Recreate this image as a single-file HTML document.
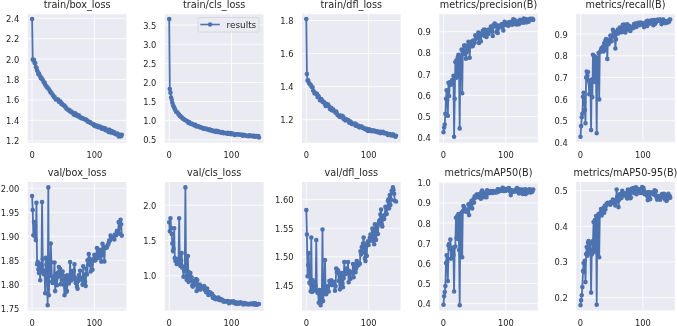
<!DOCTYPE html>
<html lang="en"><head><meta charset="utf-8"><title>results</title>
<style>html,body{margin:0;padding:0;background:#fff}svg{display:block}</style>
</head><body>
<svg width="677" height="326" viewBox="0 0 677 326" font-family="'DejaVu Sans', 'Liberation Sans', sans-serif" fill="#262626">
<rect width="677" height="326" fill="#fff"/>
<g>
<rect x="27.8" y="14.2" width="98.6" height="128.5" fill="#EAEAF2"/>
<path d="M32.1 14.2V142.7M94.4 14.2V142.7M27.8 18.3H126.4M27.8 38.7H126.4M27.8 59.1H126.4M27.8 79.5H126.4M27.8 99.9H126.4M27.8 120.3H126.4M27.8 140.7H126.4" stroke="#fff" stroke-width="0.8" fill="none"/>
<text x="19.3" y="21.85" font-size="8.3" text-anchor="end">2.4</text>
<text x="19.3" y="42.25" font-size="8.3" text-anchor="end">2.2</text>
<text x="19.3" y="62.65" font-size="8.3" text-anchor="end">2.0</text>
<text x="19.3" y="83.05" font-size="8.3" text-anchor="end">1.8</text>
<text x="19.3" y="103.45" font-size="8.3" text-anchor="end">1.6</text>
<text x="19.3" y="123.85" font-size="8.3" text-anchor="end">1.4</text>
<text x="19.3" y="144.25" font-size="8.3" text-anchor="end">1.2</text>
<text x="32.1" y="157.8" font-size="8.3" text-anchor="middle">0</text>
<text x="94.4" y="157.8" font-size="8.3" text-anchor="middle">100</text>
<text x="77.1" y="8.1" font-size="9.7" text-anchor="middle">train/box_loss</text>
<polyline points="32.1,19 32.72,59.6 33.35,60.4 33.97,59.9 34.59,62.89 35.22,63.1 35.84,67.07 36.46,67.86 37.08,70.38 37.71,71.85 38.33,74.1 38.95,73.47 39.58,75.44 40.2,76.41 40.82,78.15 41.45,77.92 42.07,79.31 42.69,79.87 43.31,81.3 43.94,82.54 44.56,82.62 45.18,84.73 45.81,85.55 46.43,86.28 47.05,87.41 47.67,87.5 48.3,88.72 48.92,89.2 49.54,90.47 50.17,91.84 50.79,92.16 51.41,93.28 52.04,94.07 52.66,94.88 53.28,95.8 53.91,96.88 54.53,96.92 55.15,98.2 55.77,99.47 56.4,99.44 57.02,99.37 57.64,99.42 58.27,99.92 58.89,101.68 59.51,101.26 60.14,101.4 60.76,102.41 61.38,104.07 62,103.63 62.63,104.58 63.25,105.08 63.87,105.4 64.5,105.63 65.12,106.71 65.74,107.39 66.37,108.38 66.99,109.04 67.61,109.59 68.23,109.71 68.86,110.52 69.48,110.05 70.1,111.62 70.73,111.63 71.35,111.6 71.97,112.46 72.59,112.55 73.22,113.65 73.84,114.27 74.46,115.05 75.09,113.4 75.71,113.75 76.33,114.67 76.96,115.43 77.58,116.2 78.2,116.24 78.83,115.24 79.45,116.57 80.07,117.56 80.69,117.54 81.32,118.15 81.94,117.86 82.56,118.15 83.19,118.65 83.81,119.06 84.43,119.21 85.06,119.45 85.68,119.28 86.3,120.22 86.92,120.42 87.55,121.39 88.17,121.83 88.79,121.64 89.42,121.72 90.04,121.99 90.66,123.06 91.28,123.27 91.91,123.44 92.53,124.07 93.15,124.05 93.78,125.2 94.4,124.83 95.02,126.14 95.65,125.93 96.27,126.33 96.89,125.57 97.52,126.6 98.14,127.2 98.76,126.4 99.38,127.06 100.01,127.48 100.63,126.85 101.25,128.12 101.88,128.68 102.5,127.85 103.12,128.83 103.75,128.04 104.37,129.06 104.99,128.32 105.61,130.26 106.24,130.05 106.86,130.01 107.48,129.77 108.11,131.28 108.73,131.95 109.35,129.78 109.97,131.96 110.6,132.44 111.22,131.86 111.84,131.12 112.47,132.67 113.09,132.27 113.71,132.29 114.34,132.19 114.96,133.63 115.58,134.09 116.21,133.46 116.83,134.45 117.45,133.6 118.07,135.03 118.7,136.4 119.32,134.62 119.94,135.8 120.57,135.48 121.19,136.3 121.81,134.7" fill="none" stroke="#4C72B0" stroke-width="1.8" stroke-linejoin="round"/>
<path d="M32.1 19h0M32.72 59.6h0M33.35 60.4h0M33.97 59.9h0M34.59 62.89h0M35.22 63.1h0M35.84 67.07h0M36.46 67.86h0M37.08 70.38h0M37.71 71.85h0M38.33 74.1h0M38.95 73.47h0M39.58 75.44h0M40.2 76.41h0M40.82 78.15h0M41.45 77.92h0M42.07 79.31h0M42.69 79.87h0M43.31 81.3h0M43.94 82.54h0M44.56 82.62h0M45.18 84.73h0M45.81 85.55h0M46.43 86.28h0M47.05 87.41h0M47.67 87.5h0M48.3 88.72h0M48.92 89.2h0M49.54 90.47h0M50.17 91.84h0M50.79 92.16h0M51.41 93.28h0M52.04 94.07h0M52.66 94.88h0M53.28 95.8h0M53.91 96.88h0M54.53 96.92h0M55.15 98.2h0M55.77 99.47h0M56.4 99.44h0M57.02 99.37h0M57.64 99.42h0M58.27 99.92h0M58.89 101.68h0M59.51 101.26h0M60.14 101.4h0M60.76 102.41h0M61.38 104.07h0M62 103.63h0M62.63 104.58h0M63.25 105.08h0M63.87 105.4h0M64.5 105.63h0M65.12 106.71h0M65.74 107.39h0M66.37 108.38h0M66.99 109.04h0M67.61 109.59h0M68.23 109.71h0M68.86 110.52h0M69.48 110.05h0M70.1 111.62h0M70.73 111.63h0M71.35 111.6h0M71.97 112.46h0M72.59 112.55h0M73.22 113.65h0M73.84 114.27h0M74.46 115.05h0M75.09 113.4h0M75.71 113.75h0M76.33 114.67h0M76.96 115.43h0M77.58 116.2h0M78.2 116.24h0M78.83 115.24h0M79.45 116.57h0M80.07 117.56h0M80.69 117.54h0M81.32 118.15h0M81.94 117.86h0M82.56 118.15h0M83.19 118.65h0M83.81 119.06h0M84.43 119.21h0M85.06 119.45h0M85.68 119.28h0M86.3 120.22h0M86.92 120.42h0M87.55 121.39h0M88.17 121.83h0M88.79 121.64h0M89.42 121.72h0M90.04 121.99h0M90.66 123.06h0M91.28 123.27h0M91.91 123.44h0M92.53 124.07h0M93.15 124.05h0M93.78 125.2h0M94.4 124.83h0M95.02 126.14h0M95.65 125.93h0M96.27 126.33h0M96.89 125.57h0M97.52 126.6h0M98.14 127.2h0M98.76 126.4h0M99.38 127.06h0M100.01 127.48h0M100.63 126.85h0M101.25 128.12h0M101.88 128.68h0M102.5 127.85h0M103.12 128.83h0M103.75 128.04h0M104.37 129.06h0M104.99 128.32h0M105.61 130.26h0M106.24 130.05h0M106.86 130.01h0M107.48 129.77h0M108.11 131.28h0M108.73 131.95h0M109.35 129.78h0M109.97 131.96h0M110.6 132.44h0M111.22 131.86h0M111.84 131.12h0M112.47 132.67h0M113.09 132.27h0M113.71 132.29h0M114.34 132.19h0M114.96 133.63h0M115.58 134.09h0M116.21 133.46h0M116.83 134.45h0M117.45 133.6h0M118.07 135.03h0M118.7 136.4h0M119.32 134.62h0M119.94 135.8h0M120.57 135.48h0M121.19 136.3h0M121.81 134.7h0" stroke="#4C72B0" stroke-width="4.6" stroke-linecap="round" fill="none"/>
</g>
<g>
<rect x="164.9" y="14.2" width="98.6" height="128.5" fill="#EAEAF2"/>
<path d="M169.2 14.2V142.7M231.5 14.2V142.7M164.9 25.1H263.5M164.9 44.2H263.5M164.9 63.4H263.5M164.9 82.5H263.5M164.9 101.6H263.5M164.9 120.7H263.5M164.9 139.8H263.5" stroke="#fff" stroke-width="0.8" fill="none"/>
<text x="156.4" y="28.65" font-size="8.3" text-anchor="end">3.5</text>
<text x="156.4" y="47.75" font-size="8.3" text-anchor="end">3.0</text>
<text x="156.4" y="66.95" font-size="8.3" text-anchor="end">2.5</text>
<text x="156.4" y="86.05" font-size="8.3" text-anchor="end">2.0</text>
<text x="156.4" y="105.15" font-size="8.3" text-anchor="end">1.5</text>
<text x="156.4" y="124.25" font-size="8.3" text-anchor="end">1.0</text>
<text x="156.4" y="143.35" font-size="8.3" text-anchor="end">0.5</text>
<text x="169.2" y="157.8" font-size="8.3" text-anchor="middle">0</text>
<text x="231.5" y="157.8" font-size="8.3" text-anchor="middle">100</text>
<text x="214.2" y="8.1" font-size="9.7" text-anchor="middle">train/cls_loss</text>
<polyline points="169.2,19.1 169.82,89 170.45,92.67 171.07,97.43 171.69,99.8 172.32,102.72 172.94,105.09 173.56,106.21 174.18,107.65 174.81,108.88 175.43,110.34 176.05,111.75 176.68,111.96 177.3,112.4 177.92,113.64 178.55,114.02 179.17,114.92 179.79,115.99 180.41,116.11 181.04,117 181.66,117.35 182.28,118.12 182.91,118.75 183.53,118.84 184.15,119.47 184.78,119.92 185.4,120.21 186.02,120.45 186.64,120.78 187.27,121.54 187.89,121.88 188.51,122.97 189.14,122 189.76,123.01 190.38,123.4 191.01,123.99 191.63,124.02 192.25,123.9 192.87,124.42 193.5,124.84 194.12,124.84 194.74,125.42 195.37,124.87 195.99,126.19 196.61,126.34 197.24,126.03 197.86,126.54 198.48,126.59 199.1,126.54 199.73,127.03 200.35,127.52 200.97,127.31 201.6,127.52 202.22,127.82 202.84,128.17 203.47,128.63 204.09,128.25 204.71,128.79 205.33,128.9 205.96,128.46 206.58,129.08 207.2,129.35 207.83,129.55 208.45,129.84 209.07,129.3 209.7,130.09 210.32,130.03 210.94,129.95 211.56,130.69 212.19,130.9 212.81,130.62 213.43,131.2 214.06,130.96 214.68,131.23 215.3,131 215.93,131.93 216.55,130.92 217.17,131.67 217.79,132.02 218.42,131.31 219.04,131.98 219.66,132.12 220.29,132.5 220.91,132.73 221.53,132.33 222.16,132.14 222.78,133.07 223.4,133.12 224.02,132.71 224.65,133.05 225.27,133.15 225.89,133.3 226.52,133.28 227.14,133.73 227.76,132.87 228.39,133.79 229.01,133.67 229.63,133.58 230.25,134.07 230.88,133.14 231.5,134.23 232.12,134.07 232.75,133.69 233.37,134.23 233.99,134.09 234.62,134.91 235.24,134.87 235.86,134.52 236.48,134.25 237.11,134.36 237.73,134.51 238.35,134.5 238.98,134.47 239.6,134.63 240.22,134.8 240.85,134.79 241.47,134.81 242.09,134.81 242.71,135.82 243.34,134.78 243.96,134.98 244.58,135.49 245.21,135.33 245.83,135.62 246.45,135.8 247.08,136 247.7,135.92 248.32,135.46 248.94,136.15 249.57,135.35 250.19,135.91 250.81,135.86 251.44,135.76 252.06,136.31 252.68,136.14 253.31,136.57 253.93,135.88 254.55,136.64 255.17,136.59 255.8,136.54 256.42,136.13 257.04,136.54 257.67,136.21 258.29,136.11 258.91,137.45" fill="none" stroke="#4C72B0" stroke-width="1.8" stroke-linejoin="round"/>
<path d="M169.2 19.1h0M169.82 89h0M170.45 92.67h0M171.07 97.43h0M171.69 99.8h0M172.32 102.72h0M172.94 105.09h0M173.56 106.21h0M174.18 107.65h0M174.81 108.88h0M175.43 110.34h0M176.05 111.75h0M176.68 111.96h0M177.3 112.4h0M177.92 113.64h0M178.55 114.02h0M179.17 114.92h0M179.79 115.99h0M180.41 116.11h0M181.04 117h0M181.66 117.35h0M182.28 118.12h0M182.91 118.75h0M183.53 118.84h0M184.15 119.47h0M184.78 119.92h0M185.4 120.21h0M186.02 120.45h0M186.64 120.78h0M187.27 121.54h0M187.89 121.88h0M188.51 122.97h0M189.14 122h0M189.76 123.01h0M190.38 123.4h0M191.01 123.99h0M191.63 124.02h0M192.25 123.9h0M192.87 124.42h0M193.5 124.84h0M194.12 124.84h0M194.74 125.42h0M195.37 124.87h0M195.99 126.19h0M196.61 126.34h0M197.24 126.03h0M197.86 126.54h0M198.48 126.59h0M199.1 126.54h0M199.73 127.03h0M200.35 127.52h0M200.97 127.31h0M201.6 127.52h0M202.22 127.82h0M202.84 128.17h0M203.47 128.63h0M204.09 128.25h0M204.71 128.79h0M205.33 128.9h0M205.96 128.46h0M206.58 129.08h0M207.2 129.35h0M207.83 129.55h0M208.45 129.84h0M209.07 129.3h0M209.7 130.09h0M210.32 130.03h0M210.94 129.95h0M211.56 130.69h0M212.19 130.9h0M212.81 130.62h0M213.43 131.2h0M214.06 130.96h0M214.68 131.23h0M215.3 131h0M215.93 131.93h0M216.55 130.92h0M217.17 131.67h0M217.79 132.02h0M218.42 131.31h0M219.04 131.98h0M219.66 132.12h0M220.29 132.5h0M220.91 132.73h0M221.53 132.33h0M222.16 132.14h0M222.78 133.07h0M223.4 133.12h0M224.02 132.71h0M224.65 133.05h0M225.27 133.15h0M225.89 133.3h0M226.52 133.28h0M227.14 133.73h0M227.76 132.87h0M228.39 133.79h0M229.01 133.67h0M229.63 133.58h0M230.25 134.07h0M230.88 133.14h0M231.5 134.23h0M232.12 134.07h0M232.75 133.69h0M233.37 134.23h0M233.99 134.09h0M234.62 134.91h0M235.24 134.87h0M235.86 134.52h0M236.48 134.25h0M237.11 134.36h0M237.73 134.51h0M238.35 134.5h0M238.98 134.47h0M239.6 134.63h0M240.22 134.8h0M240.85 134.79h0M241.47 134.81h0M242.09 134.81h0M242.71 135.82h0M243.34 134.78h0M243.96 134.98h0M244.58 135.49h0M245.21 135.33h0M245.83 135.62h0M246.45 135.8h0M247.08 136h0M247.7 135.92h0M248.32 135.46h0M248.94 136.15h0M249.57 135.35h0M250.19 135.91h0M250.81 135.86h0M251.44 135.76h0M252.06 136.31h0M252.68 136.14h0M253.31 136.57h0M253.93 135.88h0M254.55 136.64h0M255.17 136.59h0M255.8 136.54h0M256.42 136.13h0M257.04 136.54h0M257.67 136.21h0M258.29 136.11h0M258.91 137.45h0" stroke="#4C72B0" stroke-width="4.6" stroke-linecap="round" fill="none"/>
<rect x="197.9" y="17.5" width="61.2" height="14.6" rx="1.8" fill="#EAEAF2" fill-opacity="0.8" stroke="#ccc" stroke-opacity="0.8" stroke-width="0.8"/>
<path d="M200.3 24.5H219.8" stroke="#4C72B0" stroke-width="1.57"/>
<circle cx="210.1" cy="24.5" r="2.2" fill="#4C72B0"/>
<text x="226.5" y="27.6" font-size="8.9">results</text>
</g>
<g>
<rect x="302" y="14.2" width="98.6" height="128.5" fill="#EAEAF2"/>
<path d="M306.3 14.2V142.7M368.6 14.2V142.7M302 20.6H400.6M302 53.6H400.6M302 86.6H400.6M302 119.7H400.6" stroke="#fff" stroke-width="0.8" fill="none"/>
<text x="293.5" y="24.15" font-size="8.3" text-anchor="end">1.8</text>
<text x="293.5" y="57.15" font-size="8.3" text-anchor="end">1.6</text>
<text x="293.5" y="90.15" font-size="8.3" text-anchor="end">1.4</text>
<text x="293.5" y="123.25" font-size="8.3" text-anchor="end">1.2</text>
<text x="306.3" y="157.8" font-size="8.3" text-anchor="middle">0</text>
<text x="368.6" y="157.8" font-size="8.3" text-anchor="middle">100</text>
<text x="351.3" y="8.1" font-size="9.7" text-anchor="middle">train/dfl_loss</text>
<polyline points="306.3,19.1 306.92,74.1 307.55,80.5 308.17,80.33 308.79,82.81 309.42,83.61 310.04,84.6 310.66,84.83 311.28,86.3 311.91,86.95 312.53,87.27 313.15,90.43 313.78,91.53 314.4,93.34 315.02,92.79 315.65,93.26 316.27,93.97 316.89,93.87 317.51,96.95 318.14,95.79 318.76,96.44 319.38,98.01 320.01,100.19 320.63,99.69 321.25,99.17 321.88,100.05 322.5,101.84 323.12,101.75 323.74,101.81 324.37,102.87 324.99,104.32 325.61,105.98 326.24,103.74 326.86,104.85 327.48,105.26 328.11,104.62 328.73,106.27 329.35,106.73 329.97,109.11 330.6,108.57 331.22,107.82 331.84,110.26 332.47,109.92 333.09,109.28 333.71,110.72 334.34,111.23 334.96,111.49 335.58,112.7 336.2,111.43 336.83,113.42 337.45,114.87 338.07,115.2 338.7,115.83 339.32,116.27 339.94,116.95 340.56,115.46 341.19,117.29 341.81,115.77 342.43,117.06 343.06,116.55 343.68,118.97 344.3,119.54 344.93,118.88 345.55,120.55 346.17,119.31 346.8,120.2 347.42,120.56 348.04,120.15 348.66,121.43 349.29,122.68 349.91,121.22 350.53,122.71 351.16,122.41 351.78,123.89 352.4,123.44 353.03,123.88 353.65,124.18 354.27,124.28 354.89,123.62 355.52,125.6 356.14,124.29 356.76,125.56 357.39,126.1 358.01,125.55 358.63,126.43 359.25,127.33 359.88,126.92 360.5,126.69 361.12,126.19 361.75,127.17 362.37,127.64 362.99,127.92 363.62,127.88 364.24,128.87 364.86,128.51 365.49,128.96 366.11,129.59 366.73,128.87 367.35,129.35 367.98,130.93 368.6,130.34 369.22,129.22 369.85,130.07 370.47,130.58 371.09,131.1 371.72,130.6 372.34,130.34 372.96,130.36 373.58,131.27 374.21,131.21 374.83,130.87 375.45,131.19 376.08,131.19 376.7,131.98 377.32,131.3 377.94,132.11 378.57,132.44 379.19,132.36 379.81,131.73 380.44,133.09 381.06,132.07 381.68,132.82 382.31,132.27 382.93,131.84 383.55,133.08 384.18,133.24 384.8,133.17 385.42,133.51 386.04,133.13 386.67,133.23 387.29,133.69 387.91,135.01 388.54,134.55 389.16,133.96 389.78,134.73 390.41,134.31 391.03,134.49 391.65,135.39 392.27,134.8 392.9,134.34 393.52,134.94 394.14,135.67 394.77,135.87 395.39,136.67 396.01,135.78" fill="none" stroke="#4C72B0" stroke-width="1.8" stroke-linejoin="round"/>
<path d="M306.3 19.1h0M306.92 74.1h0M307.55 80.5h0M308.17 80.33h0M308.79 82.81h0M309.42 83.61h0M310.04 84.6h0M310.66 84.83h0M311.28 86.3h0M311.91 86.95h0M312.53 87.27h0M313.15 90.43h0M313.78 91.53h0M314.4 93.34h0M315.02 92.79h0M315.65 93.26h0M316.27 93.97h0M316.89 93.87h0M317.51 96.95h0M318.14 95.79h0M318.76 96.44h0M319.38 98.01h0M320.01 100.19h0M320.63 99.69h0M321.25 99.17h0M321.88 100.05h0M322.5 101.84h0M323.12 101.75h0M323.74 101.81h0M324.37 102.87h0M324.99 104.32h0M325.61 105.98h0M326.24 103.74h0M326.86 104.85h0M327.48 105.26h0M328.11 104.62h0M328.73 106.27h0M329.35 106.73h0M329.97 109.11h0M330.6 108.57h0M331.22 107.82h0M331.84 110.26h0M332.47 109.92h0M333.09 109.28h0M333.71 110.72h0M334.34 111.23h0M334.96 111.49h0M335.58 112.7h0M336.2 111.43h0M336.83 113.42h0M337.45 114.87h0M338.07 115.2h0M338.7 115.83h0M339.32 116.27h0M339.94 116.95h0M340.56 115.46h0M341.19 117.29h0M341.81 115.77h0M342.43 117.06h0M343.06 116.55h0M343.68 118.97h0M344.3 119.54h0M344.93 118.88h0M345.55 120.55h0M346.17 119.31h0M346.8 120.2h0M347.42 120.56h0M348.04 120.15h0M348.66 121.43h0M349.29 122.68h0M349.91 121.22h0M350.53 122.71h0M351.16 122.41h0M351.78 123.89h0M352.4 123.44h0M353.03 123.88h0M353.65 124.18h0M354.27 124.28h0M354.89 123.62h0M355.52 125.6h0M356.14 124.29h0M356.76 125.56h0M357.39 126.1h0M358.01 125.55h0M358.63 126.43h0M359.25 127.33h0M359.88 126.92h0M360.5 126.69h0M361.12 126.19h0M361.75 127.17h0M362.37 127.64h0M362.99 127.92h0M363.62 127.88h0M364.24 128.87h0M364.86 128.51h0M365.49 128.96h0M366.11 129.59h0M366.73 128.87h0M367.35 129.35h0M367.98 130.93h0M368.6 130.34h0M369.22 129.22h0M369.85 130.07h0M370.47 130.58h0M371.09 131.1h0M371.72 130.6h0M372.34 130.34h0M372.96 130.36h0M373.58 131.27h0M374.21 131.21h0M374.83 130.87h0M375.45 131.19h0M376.08 131.19h0M376.7 131.98h0M377.32 131.3h0M377.94 132.11h0M378.57 132.44h0M379.19 132.36h0M379.81 131.73h0M380.44 133.09h0M381.06 132.07h0M381.68 132.82h0M382.31 132.27h0M382.93 131.84h0M383.55 133.08h0M384.18 133.24h0M384.8 133.17h0M385.42 133.51h0M386.04 133.13h0M386.67 133.23h0M387.29 133.69h0M387.91 135.01h0M388.54 134.55h0M389.16 133.96h0M389.78 134.73h0M390.41 134.31h0M391.03 134.49h0M391.65 135.39h0M392.27 134.8h0M392.9 134.34h0M393.52 134.94h0M394.14 135.67h0M394.77 135.87h0M395.39 136.67h0M396.01 135.78h0" stroke="#4C72B0" stroke-width="4.6" stroke-linecap="round" fill="none"/>
</g>
<g>
<rect x="439.2" y="14.2" width="98.6" height="128.5" fill="#EAEAF2"/>
<path d="M443.5 14.2V142.7M505.8 14.2V142.7M439.2 31.7H537.8M439.2 52.92H537.8M439.2 74.14H537.8M439.2 95.36H537.8M439.2 116.58H537.8M439.2 137.8H537.8" stroke="#fff" stroke-width="0.8" fill="none"/>
<text x="430.7" y="35.25" font-size="8.3" text-anchor="end">0.9</text>
<text x="430.7" y="56.47" font-size="8.3" text-anchor="end">0.8</text>
<text x="430.7" y="77.69" font-size="8.3" text-anchor="end">0.7</text>
<text x="430.7" y="98.91" font-size="8.3" text-anchor="end">0.6</text>
<text x="430.7" y="120.13" font-size="8.3" text-anchor="end">0.5</text>
<text x="430.7" y="141.35" font-size="8.3" text-anchor="end">0.4</text>
<text x="443.5" y="157.8" font-size="8.3" text-anchor="middle">0</text>
<text x="505.8" y="157.8" font-size="8.3" text-anchor="middle">100</text>
<text x="488.5" y="8.1" font-size="9.7" text-anchor="middle">metrics/precision(B)</text>
<polyline points="443.5,132.2 444.12,127.6 444.75,124.6 445.37,113.7 445.99,98.8 446.62,90.2 447.24,100 447.86,115.7 448.48,82.7 449.11,96 449.73,84 450.35,82.14 450.98,84.79 451.6,83.66 452.22,80.1 452.85,82.99 453.47,75.84 454.09,136.7 454.71,98.8 455.34,62 455.96,78 456.58,60 457.21,74 457.83,57 458.45,54.8 459.07,76 459.7,128.4 460.32,56 460.94,78 461.57,49.5 462.19,93.3 462.81,52 463.44,53.83 464.06,45.48 464.68,45.4 465.31,54.01 465.93,58.64 466.55,52.08 467.17,46.12 467.8,49.89 468.42,41.8 469.04,47.54 469.67,57.8 470.29,44.47 470.91,43.38 471.54,46.09 472.16,41.41 472.78,46.08 473.4,40.45 474.03,43.42 474.65,42.6 475.27,35.27 475.9,38.84 476.52,38.26 477.14,35.01 477.76,37.62 478.39,32.43 479.01,42.9 479.63,37.04 480.26,35.84 480.88,41.22 481.5,35.01 482.13,33.71 482.75,30.89 483.37,33.67 484,29.56 484.62,35.93 485.24,29.91 485.86,31.97 486.49,36.97 487.11,34.18 487.73,31.15 488.36,34.06 488.98,29.63 489.6,31.74 490.23,29.29 490.85,26.48 491.47,29.96 492.09,31.12 492.72,36 493.34,25.2 493.96,26.56 494.59,23.54 495.21,26 495.83,24.63 496.45,32.29 497.08,25.56 497.7,32.9 498.32,28.61 498.95,25.82 499.57,26.05 500.19,26.06 500.82,25.79 501.44,24.18 502.06,26.85 502.69,25.64 503.31,30.4 503.93,23.72 504.55,21.92 505.18,24.26 505.8,24.98 506.42,24.62 507.05,24.38 507.67,22.79 508.29,25.77 508.92,22.41 509.54,22.76 510.16,21.99 510.78,22.69 511.41,22.03 512.03,24.81 512.65,23.09 513.28,19.31 513.9,21.46 514.52,19.73 515.14,23.6 515.77,24.36 516.39,21.24 517.01,22.94 517.64,21.53 518.26,22.45 518.88,24.18 519.51,21.11 520.13,19.69 520.75,22.61 521.38,22.22 522,22.37 522.62,22.8 523.24,20.25 523.87,18.57 524.49,22.54 525.11,20.44 525.74,19.27 526.36,19.27 526.98,22.28 527.61,20.93 528.23,21 528.85,21.62 529.47,19.55 530.1,18.89 530.72,19.15 531.34,18.75 531.97,19.66 532.59,18.83 533.21,19.85" fill="none" stroke="#4C72B0" stroke-width="1.8" stroke-linejoin="round"/>
<path d="M443.5 132.2h0M444.12 127.6h0M444.75 124.6h0M445.37 113.7h0M445.99 98.8h0M446.62 90.2h0M447.24 100h0M447.86 115.7h0M448.48 82.7h0M449.11 96h0M449.73 84h0M450.35 82.14h0M450.98 84.79h0M451.6 83.66h0M452.22 80.1h0M452.85 82.99h0M453.47 75.84h0M454.09 136.7h0M454.71 98.8h0M455.34 62h0M455.96 78h0M456.58 60h0M457.21 74h0M457.83 57h0M458.45 54.8h0M459.07 76h0M459.7 128.4h0M460.32 56h0M460.94 78h0M461.57 49.5h0M462.19 93.3h0M462.81 52h0M463.44 53.83h0M464.06 45.48h0M464.68 45.4h0M465.31 54.01h0M465.93 58.64h0M466.55 52.08h0M467.17 46.12h0M467.8 49.89h0M468.42 41.8h0M469.04 47.54h0M469.67 57.8h0M470.29 44.47h0M470.91 43.38h0M471.54 46.09h0M472.16 41.41h0M472.78 46.08h0M473.4 40.45h0M474.03 43.42h0M474.65 42.6h0M475.27 35.27h0M475.9 38.84h0M476.52 38.26h0M477.14 35.01h0M477.76 37.62h0M478.39 32.43h0M479.01 42.9h0M479.63 37.04h0M480.26 35.84h0M480.88 41.22h0M481.5 35.01h0M482.13 33.71h0M482.75 30.89h0M483.37 33.67h0M484 29.56h0M484.62 35.93h0M485.24 29.91h0M485.86 31.97h0M486.49 36.97h0M487.11 34.18h0M487.73 31.15h0M488.36 34.06h0M488.98 29.63h0M489.6 31.74h0M490.23 29.29h0M490.85 26.48h0M491.47 29.96h0M492.09 31.12h0M492.72 36h0M493.34 25.2h0M493.96 26.56h0M494.59 23.54h0M495.21 26h0M495.83 24.63h0M496.45 32.29h0M497.08 25.56h0M497.7 32.9h0M498.32 28.61h0M498.95 25.82h0M499.57 26.05h0M500.19 26.06h0M500.82 25.79h0M501.44 24.18h0M502.06 26.85h0M502.69 25.64h0M503.31 30.4h0M503.93 23.72h0M504.55 21.92h0M505.18 24.26h0M505.8 24.98h0M506.42 24.62h0M507.05 24.38h0M507.67 22.79h0M508.29 25.77h0M508.92 22.41h0M509.54 22.76h0M510.16 21.99h0M510.78 22.69h0M511.41 22.03h0M512.03 24.81h0M512.65 23.09h0M513.28 19.31h0M513.9 21.46h0M514.52 19.73h0M515.14 23.6h0M515.77 24.36h0M516.39 21.24h0M517.01 22.94h0M517.64 21.53h0M518.26 22.45h0M518.88 24.18h0M519.51 21.11h0M520.13 19.69h0M520.75 22.61h0M521.38 22.22h0M522 22.37h0M522.62 22.8h0M523.24 20.25h0M523.87 18.57h0M524.49 22.54h0M525.11 20.44h0M525.74 19.27h0M526.36 19.27h0M526.98 22.28h0M527.61 20.93h0M528.23 21h0M528.85 21.62h0M529.47 19.55h0M530.1 18.89h0M530.72 19.15h0M531.34 18.75h0M531.97 19.66h0M532.59 18.83h0M533.21 19.85h0" stroke="#4C72B0" stroke-width="4.6" stroke-linecap="round" fill="none"/>
</g>
<g>
<rect x="576.2" y="14.2" width="98.6" height="128.5" fill="#EAEAF2"/>
<path d="M580.5 14.2V142.7M642.8 14.2V142.7M576.2 34.1H674.8M576.2 55.75H674.8M576.2 77.4H674.8M576.2 99.05H674.8M576.2 120.7H674.8M576.2 142.3H674.8" stroke="#fff" stroke-width="0.8" fill="none"/>
<text x="567.7" y="37.65" font-size="8.3" text-anchor="end">0.9</text>
<text x="567.7" y="59.3" font-size="8.3" text-anchor="end">0.8</text>
<text x="567.7" y="80.95" font-size="8.3" text-anchor="end">0.7</text>
<text x="567.7" y="102.6" font-size="8.3" text-anchor="end">0.6</text>
<text x="567.7" y="124.25" font-size="8.3" text-anchor="end">0.5</text>
<text x="567.7" y="145.85" font-size="8.3" text-anchor="end">0.4</text>
<text x="580.5" y="157.8" font-size="8.3" text-anchor="middle">0</text>
<text x="642.8" y="157.8" font-size="8.3" text-anchor="middle">100</text>
<text x="625.5" y="8.1" font-size="9.7" text-anchor="middle">metrics/recall(B)</text>
<polyline points="580.5,136.7 581.12,126.1 581.75,117.2 582.37,113.7 582.99,96.8 583.62,92.8 584.24,102.6 584.86,110 585.48,123.2 586.11,77.6 586.73,71.48 587.35,75.57 587.98,72 588.6,80.63 589.22,94.3 589.85,84 590.47,87.9 591.09,130.1 591.71,79.6 592.34,97.3 592.96,54.7 593.58,80 594.21,56 594.83,82 595.45,57 596.08,78 596.7,133.2 597.32,58 597.94,83 598.57,53 599.19,99.4 599.81,52 600.44,51.63 601.06,49.4 601.68,48.09 602.3,48.32 602.93,46.84 603.55,51.43 604.17,43.31 604.8,50.23 605.42,40.59 606.04,39.09 606.67,41.01 607.29,58.9 607.91,40.46 608.53,44.15 609.16,42.85 609.78,39.58 610.4,35.67 611.03,36.01 611.65,41.16 612.27,36.01 612.9,29.82 613.52,31.56 614.14,31.46 614.76,36.88 615.39,48.5 616.01,39.2 616.63,33.72 617.26,31.63 617.88,29.55 618.5,33.36 619.13,29.43 619.75,27.43 620.37,31.12 621,29.27 621.62,32.28 622.24,28.59 622.86,24.79 623.49,30.5 624.11,24.54 624.73,32.04 625.36,32.54 625.98,26.76 626.6,24.84 627.23,24.19 627.85,29.47 628.47,26.8 629.09,25.76 629.72,26.42 630.34,31 630.96,27.37 631.59,28.02 632.21,27.86 632.83,28.13 633.46,27.97 634.08,24.13 634.7,24.91 635.32,23.62 635.95,23.52 636.57,26.84 637.19,23.52 637.82,24.1 638.44,22.8 639.06,22.81 639.68,25.08 640.31,22.78 640.93,22.6 641.55,24.12 642.18,24.02 642.8,24.38 643.42,23.3 644.05,27.1 644.67,23.86 645.29,23.58 645.91,24.31 646.54,21.37 647.16,25.98 647.78,20.68 648.41,23.59 649.03,22.51 649.65,21.66 650.28,23.53 650.9,21.85 651.52,20.26 652.14,20.45 652.77,22.73 653.39,25.15 654.01,20.05 654.64,21.82 655.26,23.79 655.88,22.52 656.51,21.07 657.13,19.79 657.75,19.74 658.38,20.31 659,20.74 659.62,19.58 660.24,19.53 660.87,21.37 661.49,24.1 662.11,19.84 662.74,20.22 663.36,19.64 663.98,21.79 664.61,22.63 665.23,23.11 665.85,21.34 666.47,21.34 667.1,22.17 667.72,22.46 668.34,22.08 668.97,21.73 669.59,19.53 670.21,19.6" fill="none" stroke="#4C72B0" stroke-width="1.8" stroke-linejoin="round"/>
<path d="M580.5 136.7h0M581.12 126.1h0M581.75 117.2h0M582.37 113.7h0M582.99 96.8h0M583.62 92.8h0M584.24 102.6h0M584.86 110h0M585.48 123.2h0M586.11 77.6h0M586.73 71.48h0M587.35 75.57h0M587.98 72h0M588.6 80.63h0M589.22 94.3h0M589.85 84h0M590.47 87.9h0M591.09 130.1h0M591.71 79.6h0M592.34 97.3h0M592.96 54.7h0M593.58 80h0M594.21 56h0M594.83 82h0M595.45 57h0M596.08 78h0M596.7 133.2h0M597.32 58h0M597.94 83h0M598.57 53h0M599.19 99.4h0M599.81 52h0M600.44 51.63h0M601.06 49.4h0M601.68 48.09h0M602.3 48.32h0M602.93 46.84h0M603.55 51.43h0M604.17 43.31h0M604.8 50.23h0M605.42 40.59h0M606.04 39.09h0M606.67 41.01h0M607.29 58.9h0M607.91 40.46h0M608.53 44.15h0M609.16 42.85h0M609.78 39.58h0M610.4 35.67h0M611.03 36.01h0M611.65 41.16h0M612.27 36.01h0M612.9 29.82h0M613.52 31.56h0M614.14 31.46h0M614.76 36.88h0M615.39 48.5h0M616.01 39.2h0M616.63 33.72h0M617.26 31.63h0M617.88 29.55h0M618.5 33.36h0M619.13 29.43h0M619.75 27.43h0M620.37 31.12h0M621 29.27h0M621.62 32.28h0M622.24 28.59h0M622.86 24.79h0M623.49 30.5h0M624.11 24.54h0M624.73 32.04h0M625.36 32.54h0M625.98 26.76h0M626.6 24.84h0M627.23 24.19h0M627.85 29.47h0M628.47 26.8h0M629.09 25.76h0M629.72 26.42h0M630.34 31h0M630.96 27.37h0M631.59 28.02h0M632.21 27.86h0M632.83 28.13h0M633.46 27.97h0M634.08 24.13h0M634.7 24.91h0M635.32 23.62h0M635.95 23.52h0M636.57 26.84h0M637.19 23.52h0M637.82 24.1h0M638.44 22.8h0M639.06 22.81h0M639.68 25.08h0M640.31 22.78h0M640.93 22.6h0M641.55 24.12h0M642.18 24.02h0M642.8 24.38h0M643.42 23.3h0M644.05 27.1h0M644.67 23.86h0M645.29 23.58h0M645.91 24.31h0M646.54 21.37h0M647.16 25.98h0M647.78 20.68h0M648.41 23.59h0M649.03 22.51h0M649.65 21.66h0M650.28 23.53h0M650.9 21.85h0M651.52 20.26h0M652.14 20.45h0M652.77 22.73h0M653.39 25.15h0M654.01 20.05h0M654.64 21.82h0M655.26 23.79h0M655.88 22.52h0M656.51 21.07h0M657.13 19.79h0M657.75 19.74h0M658.38 20.31h0M659 20.74h0M659.62 19.58h0M660.24 19.53h0M660.87 21.37h0M661.49 24.1h0M662.11 19.84h0M662.74 20.22h0M663.36 19.64h0M663.98 21.79h0M664.61 22.63h0M665.23 23.11h0M665.85 21.34h0M666.47 21.34h0M667.1 22.17h0M667.72 22.46h0M668.34 22.08h0M668.97 21.73h0M669.59 19.53h0M670.21 19.6h0" stroke="#4C72B0" stroke-width="4.6" stroke-linecap="round" fill="none"/>
</g>
<g>
<rect x="27.8" y="182" width="98.6" height="128.5" fill="#EAEAF2"/>
<path d="M32.1 182V310.5M94.4 182V310.5M27.8 188.3H126.4M27.8 212.3H126.4M27.8 236.3H126.4M27.8 260.3H126.4M27.8 284.3H126.4M27.8 308.3H126.4" stroke="#fff" stroke-width="0.8" fill="none"/>
<text x="19.3" y="191.85" font-size="8.3" text-anchor="end">2.00</text>
<text x="19.3" y="215.85" font-size="8.3" text-anchor="end">1.95</text>
<text x="19.3" y="239.85" font-size="8.3" text-anchor="end">1.90</text>
<text x="19.3" y="263.85" font-size="8.3" text-anchor="end">1.85</text>
<text x="19.3" y="287.85" font-size="8.3" text-anchor="end">1.80</text>
<text x="19.3" y="311.85" font-size="8.3" text-anchor="end">1.75</text>
<text x="32.1" y="325.6" font-size="8.3" text-anchor="middle">0</text>
<text x="94.4" y="325.6" font-size="8.3" text-anchor="middle">100</text>
<text x="77.1" y="175.9" font-size="9.7" text-anchor="middle">val/box_loss</text>
<polyline points="32.1,196.1 32.72,210.1 33.35,235.2 33.97,222 34.59,236 35.22,226 35.84,240.1 36.46,202.7 37.08,264.2 37.71,261.68 38.33,269.2 38.95,272.89 39.58,267.23 40.2,280.2 40.82,264.2 41.45,270.55 42.07,202.1 42.69,259.1 43.31,273.12 43.94,274.19 44.56,270.68 45.18,293.2 45.81,257.86 46.43,264.91 47.05,275.17 47.67,305.2 48.3,187.4 48.92,295.2 49.54,269.2 50.17,275.82 50.79,243.5 51.41,262.37 52.04,281.6 52.66,283.04 53.28,277.57 53.91,276.85 54.53,262.54 55.15,291.1 55.77,274.02 56.4,278.45 57.02,285.31 57.64,273.89 58.27,272.33 58.89,267 59.51,276.24 60.14,268.85 60.76,284.31 61.38,272.11 62,274.1 62.63,271.58 63.25,280.12 63.87,284.64 64.5,295.2 65.12,281.13 65.74,276.17 66.37,291.93 66.99,291.1 67.61,275.2 68.23,281.44 68.86,283.43 69.48,279.99 70.1,262.1 70.73,275.7 71.35,280.53 71.97,278.66 72.59,271.04 73.22,278.67 73.84,270.45 74.46,264.35 75.09,278.06 75.71,282.97 76.33,280.48 76.96,286.77 77.58,288.7 78.2,280.94 78.83,275.33 79.45,278.72 80.07,270.7 80.69,278.67 81.32,278.26 81.94,279.64 82.56,284.66 83.19,266.24 83.81,282.25 84.43,274.67 85.06,281.84 85.68,286 86.3,268.7 86.92,274.41 87.55,260.38 88.17,264.92 88.79,254.1 89.42,258.67 90.04,261.73 90.66,271.51 91.28,264.66 91.91,260.59 92.53,269.76 93.15,260.6 93.78,258.61 94.4,254.68 95.02,260.6 95.65,259.96 96.27,255.18 96.89,248.01 97.52,257.18 98.14,258.04 98.76,254.7 99.38,251.09 100.01,249.84 100.63,252.39 101.25,261.62 101.88,254.31 102.5,243.87 103.12,255.1 103.75,248.29 104.37,261.38 104.99,247.03 105.61,247.42 106.24,247.86 106.86,247.51 107.48,245.51 108.11,244.78 108.73,242.66 109.35,240.25 109.97,240.53 110.6,235.65 111.22,238.4 111.84,237.02 112.47,237.5 113.09,236.7 113.71,237.41 114.34,239.46 114.96,234.45 115.58,235.37 116.21,235.17 116.83,231.15 117.45,231.12 118.07,232.94 118.7,222.08 119.32,233.82 119.94,222.8 120.57,219.84 121.19,224.2 121.81,235.6" fill="none" stroke="#4C72B0" stroke-width="1.8" stroke-linejoin="round"/>
<path d="M32.1 196.1h0M32.72 210.1h0M33.35 235.2h0M33.97 222h0M34.59 236h0M35.22 226h0M35.84 240.1h0M36.46 202.7h0M37.08 264.2h0M37.71 261.68h0M38.33 269.2h0M38.95 272.89h0M39.58 267.23h0M40.2 280.2h0M40.82 264.2h0M41.45 270.55h0M42.07 202.1h0M42.69 259.1h0M43.31 273.12h0M43.94 274.19h0M44.56 270.68h0M45.18 293.2h0M45.81 257.86h0M46.43 264.91h0M47.05 275.17h0M47.67 305.2h0M48.3 187.4h0M48.92 295.2h0M49.54 269.2h0M50.17 275.82h0M50.79 243.5h0M51.41 262.37h0M52.04 281.6h0M52.66 283.04h0M53.28 277.57h0M53.91 276.85h0M54.53 262.54h0M55.15 291.1h0M55.77 274.02h0M56.4 278.45h0M57.02 285.31h0M57.64 273.89h0M58.27 272.33h0M58.89 267h0M59.51 276.24h0M60.14 268.85h0M60.76 284.31h0M61.38 272.11h0M62 274.1h0M62.63 271.58h0M63.25 280.12h0M63.87 284.64h0M64.5 295.2h0M65.12 281.13h0M65.74 276.17h0M66.37 291.93h0M66.99 291.1h0M67.61 275.2h0M68.23 281.44h0M68.86 283.43h0M69.48 279.99h0M70.1 262.1h0M70.73 275.7h0M71.35 280.53h0M71.97 278.66h0M72.59 271.04h0M73.22 278.67h0M73.84 270.45h0M74.46 264.35h0M75.09 278.06h0M75.71 282.97h0M76.33 280.48h0M76.96 286.77h0M77.58 288.7h0M78.2 280.94h0M78.83 275.33h0M79.45 278.72h0M80.07 270.7h0M80.69 278.67h0M81.32 278.26h0M81.94 279.64h0M82.56 284.66h0M83.19 266.24h0M83.81 282.25h0M84.43 274.67h0M85.06 281.84h0M85.68 286h0M86.3 268.7h0M86.92 274.41h0M87.55 260.38h0M88.17 264.92h0M88.79 254.1h0M89.42 258.67h0M90.04 261.73h0M90.66 271.51h0M91.28 264.66h0M91.91 260.59h0M92.53 269.76h0M93.15 260.6h0M93.78 258.61h0M94.4 254.68h0M95.02 260.6h0M95.65 259.96h0M96.27 255.18h0M96.89 248.01h0M97.52 257.18h0M98.14 258.04h0M98.76 254.7h0M99.38 251.09h0M100.01 249.84h0M100.63 252.39h0M101.25 261.62h0M101.88 254.31h0M102.5 243.87h0M103.12 255.1h0M103.75 248.29h0M104.37 261.38h0M104.99 247.03h0M105.61 247.42h0M106.24 247.86h0M106.86 247.51h0M107.48 245.51h0M108.11 244.78h0M108.73 242.66h0M109.35 240.25h0M109.97 240.53h0M110.6 235.65h0M111.22 238.4h0M111.84 237.02h0M112.47 237.5h0M113.09 236.7h0M113.71 237.41h0M114.34 239.46h0M114.96 234.45h0M115.58 235.37h0M116.21 235.17h0M116.83 231.15h0M117.45 231.12h0M118.07 232.94h0M118.7 222.08h0M119.32 233.82h0M119.94 222.8h0M120.57 219.84h0M121.19 224.2h0M121.81 235.6h0" stroke="#4C72B0" stroke-width="4.6" stroke-linecap="round" fill="none"/>
</g>
<g>
<rect x="164.9" y="182" width="98.6" height="128.5" fill="#EAEAF2"/>
<path d="M169.2 182V310.5M231.5 182V310.5M164.9 205.2H263.5M164.9 240.5H263.5M164.9 275.8H263.5" stroke="#fff" stroke-width="0.8" fill="none"/>
<text x="156.4" y="208.75" font-size="8.3" text-anchor="end">2.0</text>
<text x="156.4" y="244.05" font-size="8.3" text-anchor="end">1.5</text>
<text x="156.4" y="279.35" font-size="8.3" text-anchor="end">1.0</text>
<text x="169.2" y="325.6" font-size="8.3" text-anchor="middle">0</text>
<text x="231.5" y="325.6" font-size="8.3" text-anchor="middle">100</text>
<text x="214.2" y="175.9" font-size="9.7" text-anchor="middle">val/cls_loss</text>
<polyline points="169.2,222.2 169.82,231.2 170.45,218.2 171.07,228 171.69,234 172.32,243.5 172.94,251.1 173.56,248.97 174.18,228.2 174.81,258 175.43,261.1 176.05,261.24 176.68,263.88 177.3,261.91 177.92,262.33 178.55,258.78 179.17,218.2 179.79,262 180.41,266.06 181.04,260.45 181.66,253.1 182.28,267.67 182.91,266.61 183.53,276.69 184.15,270.81 184.78,267.24 185.4,187.4 186.02,266.43 186.64,279.74 187.27,274.68 187.89,256.1 188.51,281.84 189.14,272.39 189.76,281.08 190.38,272.94 191.01,278.37 191.63,277.34 192.25,285.64 192.87,286.61 193.5,281.3 194.12,284.47 194.74,282.32 195.37,284.35 195.99,279 196.61,291 197.24,280.08 197.86,285.18 198.48,289.32 199.1,285.66 199.73,284.45 200.35,289.61 200.97,286.73 201.6,286.88 202.22,287.58 202.84,287.33 203.47,287.49 204.09,286.09 204.71,289.85 205.33,289.46 205.96,292.08 206.58,290.3 207.2,288.66 207.83,291.86 208.45,294.89 209.07,292.51 209.7,292.37 210.32,292.52 210.94,293.24 211.56,294.69 212.19,294.13 212.81,297.71 213.43,296.12 214.06,296.96 214.68,298.74 215.3,299.11 215.93,297.71 216.55,298.51 217.17,299.13 217.79,298.54 218.42,297.46 219.04,299.7 219.66,300.1 220.29,299.93 220.91,299.07 221.53,299.84 222.16,299.71 222.78,300.11 223.4,301.5 224.02,301.82 224.65,301.31 225.27,301.36 225.89,301.58 226.52,301.19 227.14,301.26 227.76,300.94 228.39,301.51 229.01,303.25 229.63,302.39 230.25,301.62 230.88,301.63 231.5,301.45 232.12,302.41 232.75,302.51 233.37,301.33 233.99,302.74 234.62,302.1 235.24,303.54 235.86,302.75 236.48,303.87 237.11,302.49 237.73,302.68 238.35,303.13 238.98,303.69 239.6,303.44 240.22,302.35 240.85,303.32 241.47,303.28 242.09,303.06 242.71,302.98 243.34,304.53 243.96,303.27 244.58,303.05 245.21,304.01 245.83,303.76 246.45,303.69 247.08,304.25 247.7,304.13 248.32,304.11 248.94,304.51 249.57,304.17 250.19,303.71 250.81,303.9 251.44,303.86 252.06,304.31 252.68,303.65 253.31,303.29 253.93,304.37 254.55,303.66 255.17,303.38 255.8,304.64 256.42,304.11 257.04,304.77 257.67,304.27 258.29,304.01 258.91,303.98" fill="none" stroke="#4C72B0" stroke-width="1.8" stroke-linejoin="round"/>
<path d="M169.2 222.2h0M169.82 231.2h0M170.45 218.2h0M171.07 228h0M171.69 234h0M172.32 243.5h0M172.94 251.1h0M173.56 248.97h0M174.18 228.2h0M174.81 258h0M175.43 261.1h0M176.05 261.24h0M176.68 263.88h0M177.3 261.91h0M177.92 262.33h0M178.55 258.78h0M179.17 218.2h0M179.79 262h0M180.41 266.06h0M181.04 260.45h0M181.66 253.1h0M182.28 267.67h0M182.91 266.61h0M183.53 276.69h0M184.15 270.81h0M184.78 267.24h0M185.4 187.4h0M186.02 266.43h0M186.64 279.74h0M187.27 274.68h0M187.89 256.1h0M188.51 281.84h0M189.14 272.39h0M189.76 281.08h0M190.38 272.94h0M191.01 278.37h0M191.63 277.34h0M192.25 285.64h0M192.87 286.61h0M193.5 281.3h0M194.12 284.47h0M194.74 282.32h0M195.37 284.35h0M195.99 279h0M196.61 291h0M197.24 280.08h0M197.86 285.18h0M198.48 289.32h0M199.1 285.66h0M199.73 284.45h0M200.35 289.61h0M200.97 286.73h0M201.6 286.88h0M202.22 287.58h0M202.84 287.33h0M203.47 287.49h0M204.09 286.09h0M204.71 289.85h0M205.33 289.46h0M205.96 292.08h0M206.58 290.3h0M207.2 288.66h0M207.83 291.86h0M208.45 294.89h0M209.07 292.51h0M209.7 292.37h0M210.32 292.52h0M210.94 293.24h0M211.56 294.69h0M212.19 294.13h0M212.81 297.71h0M213.43 296.12h0M214.06 296.96h0M214.68 298.74h0M215.3 299.11h0M215.93 297.71h0M216.55 298.51h0M217.17 299.13h0M217.79 298.54h0M218.42 297.46h0M219.04 299.7h0M219.66 300.1h0M220.29 299.93h0M220.91 299.07h0M221.53 299.84h0M222.16 299.71h0M222.78 300.11h0M223.4 301.5h0M224.02 301.82h0M224.65 301.31h0M225.27 301.36h0M225.89 301.58h0M226.52 301.19h0M227.14 301.26h0M227.76 300.94h0M228.39 301.51h0M229.01 303.25h0M229.63 302.39h0M230.25 301.62h0M230.88 301.63h0M231.5 301.45h0M232.12 302.41h0M232.75 302.51h0M233.37 301.33h0M233.99 302.74h0M234.62 302.1h0M235.24 303.54h0M235.86 302.75h0M236.48 303.87h0M237.11 302.49h0M237.73 302.68h0M238.35 303.13h0M238.98 303.69h0M239.6 303.44h0M240.22 302.35h0M240.85 303.32h0M241.47 303.28h0M242.09 303.06h0M242.71 302.98h0M243.34 304.53h0M243.96 303.27h0M244.58 303.05h0M245.21 304.01h0M245.83 303.76h0M246.45 303.69h0M247.08 304.25h0M247.7 304.13h0M248.32 304.11h0M248.94 304.51h0M249.57 304.17h0M250.19 303.71h0M250.81 303.9h0M251.44 303.86h0M252.06 304.31h0M252.68 303.65h0M253.31 303.29h0M253.93 304.37h0M254.55 303.66h0M255.17 303.38h0M255.8 304.64h0M256.42 304.11h0M257.04 304.77h0M257.67 304.27h0M258.29 304.01h0M258.91 303.98h0" stroke="#4C72B0" stroke-width="4.6" stroke-linecap="round" fill="none"/>
</g>
<g>
<rect x="302" y="182" width="98.6" height="128.5" fill="#EAEAF2"/>
<path d="M306.3 182V310.5M368.6 182V310.5M302 199.7H400.6M302 228.25H400.6M302 256.8H400.6M302 285.35H400.6" stroke="#fff" stroke-width="0.8" fill="none"/>
<text x="293.5" y="203.25" font-size="8.3" text-anchor="end">1.60</text>
<text x="293.5" y="231.8" font-size="8.3" text-anchor="end">1.55</text>
<text x="293.5" y="260.35" font-size="8.3" text-anchor="end">1.50</text>
<text x="293.5" y="288.9" font-size="8.3" text-anchor="end">1.45</text>
<text x="306.3" y="325.6" font-size="8.3" text-anchor="middle">0</text>
<text x="368.6" y="325.6" font-size="8.3" text-anchor="middle">100</text>
<text x="351.3" y="175.9" font-size="9.7" text-anchor="middle">val/dfl_loss</text>
<polyline points="306.3,210.1 306.92,234.5 307.55,276.2 308.17,265.18 308.79,253.1 309.42,282.73 310.04,283.62 310.66,291.25 311.28,237.5 311.91,291.9 312.53,279.94 313.15,291.1 313.78,281.76 314.4,285.2 315.02,287.63 315.65,285.8 316.27,240.1 316.89,291.07 317.51,292.86 318.14,292.45 318.76,302.82 319.38,289.97 320.01,292.73 320.63,305.2 321.25,302.8 321.88,290.14 322.5,229.5 323.12,301 323.74,293.86 324.37,287.73 324.99,260.1 325.61,290.04 326.24,294.2 326.86,291.73 327.48,289.6 328.11,286.01 328.73,291.57 329.35,280.96 329.97,284.15 330.6,283.91 331.22,280.27 331.84,285.12 332.47,284.79 333.09,283.78 333.71,281.85 334.34,285.03 334.96,290.66 335.58,286.31 336.2,268.47 336.83,272.2 337.45,269.9 338.07,270.49 338.7,281 339.32,273.37 339.94,289.34 340.56,285.1 341.19,277.35 341.81,273.14 342.43,283.76 343.06,287.27 343.68,278.29 344.3,262.1 344.93,274.07 345.55,274.21 346.17,268.5 346.8,272.38 347.42,269.6 348.04,262.1 348.66,282.2 349.29,271.12 349.91,272.6 350.53,278.82 351.16,272.18 351.78,272.3 352.4,272.85 353.03,264.07 353.65,277.2 354.27,270.51 354.89,264.86 355.52,272.13 356.14,268.52 356.76,261.11 357.39,265.94 358.01,264.26 358.63,264.91 359.25,263.9 359.88,263.7 360.5,251.29 361.12,254.37 361.75,247.09 362.37,252.49 362.99,243.5 363.62,237.45 364.24,245.67 364.86,258.28 365.49,261.1 366.11,246.42 366.73,255.89 367.35,242.78 367.98,241.42 368.6,245.06 369.22,240.91 369.85,237.69 370.47,234.59 371.09,235.68 371.72,240.49 372.34,228.48 372.96,231.18 373.58,240.54 374.21,244.28 374.83,224.32 375.45,234.62 376.08,239.85 376.7,229.95 377.32,226.87 377.94,233.94 378.57,223.57 379.19,220.96 379.81,219.96 380.44,214.58 381.06,209.59 381.68,224.59 382.31,226.41 382.93,218.91 383.55,216.33 384.18,219 384.8,215.08 385.42,206.84 386.04,208.08 386.67,213.98 387.29,208.25 387.91,200.77 388.54,199.26 389.16,208.37 389.78,195.02 390.41,205.03 391.03,199.76 391.65,190.84 392.27,192.2 392.9,187.4 393.52,190 394.14,193.78 394.77,200.77 395.39,201.05 396.01,201.5" fill="none" stroke="#4C72B0" stroke-width="1.8" stroke-linejoin="round"/>
<path d="M306.3 210.1h0M306.92 234.5h0M307.55 276.2h0M308.17 265.18h0M308.79 253.1h0M309.42 282.73h0M310.04 283.62h0M310.66 291.25h0M311.28 237.5h0M311.91 291.9h0M312.53 279.94h0M313.15 291.1h0M313.78 281.76h0M314.4 285.2h0M315.02 287.63h0M315.65 285.8h0M316.27 240.1h0M316.89 291.07h0M317.51 292.86h0M318.14 292.45h0M318.76 302.82h0M319.38 289.97h0M320.01 292.73h0M320.63 305.2h0M321.25 302.8h0M321.88 290.14h0M322.5 229.5h0M323.12 301h0M323.74 293.86h0M324.37 287.73h0M324.99 260.1h0M325.61 290.04h0M326.24 294.2h0M326.86 291.73h0M327.48 289.6h0M328.11 286.01h0M328.73 291.57h0M329.35 280.96h0M329.97 284.15h0M330.6 283.91h0M331.22 280.27h0M331.84 285.12h0M332.47 284.79h0M333.09 283.78h0M333.71 281.85h0M334.34 285.03h0M334.96 290.66h0M335.58 286.31h0M336.2 268.47h0M336.83 272.2h0M337.45 269.9h0M338.07 270.49h0M338.7 281h0M339.32 273.37h0M339.94 289.34h0M340.56 285.1h0M341.19 277.35h0M341.81 273.14h0M342.43 283.76h0M343.06 287.27h0M343.68 278.29h0M344.3 262.1h0M344.93 274.07h0M345.55 274.21h0M346.17 268.5h0M346.8 272.38h0M347.42 269.6h0M348.04 262.1h0M348.66 282.2h0M349.29 271.12h0M349.91 272.6h0M350.53 278.82h0M351.16 272.18h0M351.78 272.3h0M352.4 272.85h0M353.03 264.07h0M353.65 277.2h0M354.27 270.51h0M354.89 264.86h0M355.52 272.13h0M356.14 268.52h0M356.76 261.11h0M357.39 265.94h0M358.01 264.26h0M358.63 264.91h0M359.25 263.9h0M359.88 263.7h0M360.5 251.29h0M361.12 254.37h0M361.75 247.09h0M362.37 252.49h0M362.99 243.5h0M363.62 237.45h0M364.24 245.67h0M364.86 258.28h0M365.49 261.1h0M366.11 246.42h0M366.73 255.89h0M367.35 242.78h0M367.98 241.42h0M368.6 245.06h0M369.22 240.91h0M369.85 237.69h0M370.47 234.59h0M371.09 235.68h0M371.72 240.49h0M372.34 228.48h0M372.96 231.18h0M373.58 240.54h0M374.21 244.28h0M374.83 224.32h0M375.45 234.62h0M376.08 239.85h0M376.7 229.95h0M377.32 226.87h0M377.94 233.94h0M378.57 223.57h0M379.19 220.96h0M379.81 219.96h0M380.44 214.58h0M381.06 209.59h0M381.68 224.59h0M382.31 226.41h0M382.93 218.91h0M383.55 216.33h0M384.18 219h0M384.8 215.08h0M385.42 206.84h0M386.04 208.08h0M386.67 213.98h0M387.29 208.25h0M387.91 200.77h0M388.54 199.26h0M389.16 208.37h0M389.78 195.02h0M390.41 205.03h0M391.03 199.76h0M391.65 190.84h0M392.27 192.2h0M392.9 187.4h0M393.52 190h0M394.14 193.78h0M394.77 200.77h0M395.39 201.05h0M396.01 201.5h0" stroke="#4C72B0" stroke-width="4.6" stroke-linecap="round" fill="none"/>
</g>
<g>
<rect x="439.2" y="182" width="98.6" height="128.5" fill="#EAEAF2"/>
<path d="M443.5 182V310.5M505.8 182V310.5M439.2 182.8H537.8M439.2 202.93H537.8M439.2 223.07H537.8M439.2 243.2H537.8M439.2 263.33H537.8M439.2 283.47H537.8M439.2 303.6H537.8" stroke="#fff" stroke-width="0.8" fill="none"/>
<text x="430.7" y="186.35" font-size="8.3" text-anchor="end">1.0</text>
<text x="430.7" y="206.48" font-size="8.3" text-anchor="end">0.9</text>
<text x="430.7" y="226.62" font-size="8.3" text-anchor="end">0.8</text>
<text x="430.7" y="246.75" font-size="8.3" text-anchor="end">0.7</text>
<text x="430.7" y="266.88" font-size="8.3" text-anchor="end">0.6</text>
<text x="430.7" y="287.02" font-size="8.3" text-anchor="end">0.5</text>
<text x="430.7" y="307.15" font-size="8.3" text-anchor="end">0.4</text>
<text x="443.5" y="325.6" font-size="8.3" text-anchor="middle">0</text>
<text x="505.8" y="325.6" font-size="8.3" text-anchor="middle">100</text>
<text x="488.5" y="175.9" font-size="9.7" text-anchor="middle">metrics/mAP50(B)</text>
<polyline points="443.5,304.8 444.12,296.2 444.75,292.1 445.37,286.1 445.99,263 446.62,255.2 447.24,262.3 447.86,281.1 448.48,245.6 449.11,244.04 449.73,248.71 450.35,239.6 450.98,258.8 451.6,247.46 452.22,254.92 452.85,248.02 453.47,255.04 454.09,291.5 454.71,247.1 455.34,246.5 455.96,217.7 456.58,238 457.21,216 457.83,239 458.45,214 459.07,250 459.7,305.2 460.32,215 460.94,255 461.57,212.5 462.19,257.3 462.81,211 463.44,206 464.06,207.09 464.68,208.56 465.31,209.47 465.93,211.81 466.55,211.08 467.17,211.57 467.8,211.45 468.42,204.38 469.04,215.1 469.67,203.85 470.29,206.15 470.91,203.02 471.54,200.73 472.16,208.41 472.78,201.56 473.4,199.38 474.03,202.61 474.65,196.39 475.27,197.69 475.9,196.69 476.52,194.83 477.14,194.36 477.76,196.95 478.39,195.2 479.01,194.87 479.63,197.64 480.26,193.84 480.88,198.8 481.5,191.8 482.13,190.64 482.75,194.22 483.37,195.16 484,197.25 484.62,193.11 485.24,193.13 485.86,193.32 486.49,197.19 487.11,190.34 487.73,193.67 488.36,192.92 488.98,191.29 489.6,192.06 490.23,192.67 490.85,191.08 491.47,192.2 492.09,192.99 492.72,192.94 493.34,191.12 493.96,191.23 494.59,191.5 495.21,192.44 495.83,191.35 496.45,192.57 497.08,191.42 497.7,189.19 498.32,191.69 498.95,189.22 499.57,190.62 500.19,189.7 500.82,190.78 501.44,189.46 502.06,189.48 502.69,187.86 503.31,191.03 503.93,189.24 504.55,188.71 505.18,190.99 505.8,190.08 506.42,189.72 507.05,190.11 507.67,189.63 508.29,188.2 508.92,188.02 509.54,191.01 510.16,191.27 510.78,195.1 511.41,190.41 512.03,191.35 512.65,191.65 513.28,190.75 513.9,191.58 514.52,191.5 515.14,189.7 515.77,191.54 516.39,189.19 517.01,188.16 517.64,191.56 518.26,190.2 518.88,193.34 519.51,189.2 520.13,192.12 520.75,190.61 521.38,191.31 522,189.54 522.62,193.88 523.24,190.63 523.87,193.65 524.49,190.86 525.11,189.33 525.74,194.1 526.36,192.54 526.98,189.99 527.61,190.8 528.23,192.45 528.85,191.99 529.47,189.21 530.1,190.13 530.72,192.53 531.34,189.84 531.97,191.92 532.59,191.1 533.21,189.5" fill="none" stroke="#4C72B0" stroke-width="1.8" stroke-linejoin="round"/>
<path d="M443.5 304.8h0M444.12 296.2h0M444.75 292.1h0M445.37 286.1h0M445.99 263h0M446.62 255.2h0M447.24 262.3h0M447.86 281.1h0M448.48 245.6h0M449.11 244.04h0M449.73 248.71h0M450.35 239.6h0M450.98 258.8h0M451.6 247.46h0M452.22 254.92h0M452.85 248.02h0M453.47 255.04h0M454.09 291.5h0M454.71 247.1h0M455.34 246.5h0M455.96 217.7h0M456.58 238h0M457.21 216h0M457.83 239h0M458.45 214h0M459.07 250h0M459.7 305.2h0M460.32 215h0M460.94 255h0M461.57 212.5h0M462.19 257.3h0M462.81 211h0M463.44 206h0M464.06 207.09h0M464.68 208.56h0M465.31 209.47h0M465.93 211.81h0M466.55 211.08h0M467.17 211.57h0M467.8 211.45h0M468.42 204.38h0M469.04 215.1h0M469.67 203.85h0M470.29 206.15h0M470.91 203.02h0M471.54 200.73h0M472.16 208.41h0M472.78 201.56h0M473.4 199.38h0M474.03 202.61h0M474.65 196.39h0M475.27 197.69h0M475.9 196.69h0M476.52 194.83h0M477.14 194.36h0M477.76 196.95h0M478.39 195.2h0M479.01 194.87h0M479.63 197.64h0M480.26 193.84h0M480.88 198.8h0M481.5 191.8h0M482.13 190.64h0M482.75 194.22h0M483.37 195.16h0M484 197.25h0M484.62 193.11h0M485.24 193.13h0M485.86 193.32h0M486.49 197.19h0M487.11 190.34h0M487.73 193.67h0M488.36 192.92h0M488.98 191.29h0M489.6 192.06h0M490.23 192.67h0M490.85 191.08h0M491.47 192.2h0M492.09 192.99h0M492.72 192.94h0M493.34 191.12h0M493.96 191.23h0M494.59 191.5h0M495.21 192.44h0M495.83 191.35h0M496.45 192.57h0M497.08 191.42h0M497.7 189.19h0M498.32 191.69h0M498.95 189.22h0M499.57 190.62h0M500.19 189.7h0M500.82 190.78h0M501.44 189.46h0M502.06 189.48h0M502.69 187.86h0M503.31 191.03h0M503.93 189.24h0M504.55 188.71h0M505.18 190.99h0M505.8 190.08h0M506.42 189.72h0M507.05 190.11h0M507.67 189.63h0M508.29 188.2h0M508.92 188.02h0M509.54 191.01h0M510.16 191.27h0M510.78 195.1h0M511.41 190.41h0M512.03 191.35h0M512.65 191.65h0M513.28 190.75h0M513.9 191.58h0M514.52 191.5h0M515.14 189.7h0M515.77 191.54h0M516.39 189.19h0M517.01 188.16h0M517.64 191.56h0M518.26 190.2h0M518.88 193.34h0M519.51 189.2h0M520.13 192.12h0M520.75 190.61h0M521.38 191.31h0M522 189.54h0M522.62 193.88h0M523.24 190.63h0M523.87 193.65h0M524.49 190.86h0M525.11 189.33h0M525.74 194.1h0M526.36 192.54h0M526.98 189.99h0M527.61 190.8h0M528.23 192.45h0M528.85 191.99h0M529.47 189.21h0M530.1 190.13h0M530.72 192.53h0M531.34 189.84h0M531.97 191.92h0M532.59 191.1h0M533.21 189.5h0" stroke="#4C72B0" stroke-width="4.6" stroke-linecap="round" fill="none"/>
</g>
<g>
<rect x="576.2" y="182" width="98.6" height="128.5" fill="#EAEAF2"/>
<path d="M580.5 182V310.5M642.8 182V310.5M576.2 190.7H674.8M576.2 226.3H674.8M576.2 261.9H674.8M576.2 297.5H674.8" stroke="#fff" stroke-width="0.8" fill="none"/>
<text x="567.7" y="194.25" font-size="8.3" text-anchor="end">0.5</text>
<text x="567.7" y="229.85" font-size="8.3" text-anchor="end">0.4</text>
<text x="567.7" y="265.45" font-size="8.3" text-anchor="end">0.3</text>
<text x="567.7" y="301.05" font-size="8.3" text-anchor="end">0.2</text>
<text x="580.5" y="325.6" font-size="8.3" text-anchor="middle">0</text>
<text x="642.8" y="325.6" font-size="8.3" text-anchor="middle">100</text>
<text x="625.5" y="175.9" font-size="9.7" text-anchor="middle">metrics/mAP50-95(B)</text>
<polyline points="580.5,305.2 581.12,300.2 581.75,295.2 582.37,287.1 582.99,271 583.62,263 584.24,272 584.86,260.8 585.48,282.1 586.11,254.05 586.73,247.1 587.35,255.69 587.98,242.62 588.6,241.1 589.22,250.31 589.85,252.26 590.47,243.34 591.09,292.6 591.71,254.49 592.34,250.1 592.96,241 593.58,222 594.21,252 594.83,220 595.45,250 596.08,216 596.7,304.8 597.32,218 597.94,255 598.57,214 599.19,257.3 599.81,215 600.44,212.48 601.06,209.07 601.68,215.46 602.3,210.55 602.93,210.8 603.55,207.76 604.17,212.63 604.8,205.69 605.42,209.45 606.04,205.87 606.67,203.56 607.29,204.33 607.91,202.83 608.53,204.02 609.16,203.09 609.78,204.45 610.4,204.66 611.03,202.07 611.65,201.94 612.27,202.37 612.9,199.52 613.52,202.66 614.14,202.59 614.76,200.32 615.39,205.55 616.01,201.47 616.63,189.5 617.26,196.98 617.88,196.91 618.5,207.1 619.13,199.79 619.75,194.29 620.37,195.57 621,193.94 621.62,197.85 622.24,190.77 622.86,193.26 623.49,193.67 624.11,194.73 624.73,195.01 625.36,193.15 625.98,196.25 626.6,194.43 627.23,198.53 627.85,189.65 628.47,195.05 629.09,190.71 629.72,191.27 630.34,198.13 630.96,197.48 631.59,188.81 632.21,192.26 632.83,192.5 633.46,188.11 634.08,192.22 634.7,193.13 635.32,192.53 635.95,187.19 636.57,194.18 637.19,191.83 637.82,190.81 638.44,188.93 639.06,192.26 639.68,192.69 640.31,189.42 640.93,190.97 641.55,193.01 642.18,187.03 642.8,192.09 643.42,187.75 644.05,190.51 644.67,194.2 645.29,193.11 645.91,192.8 646.54,193.24 647.16,195.98 647.78,200.1 648.41,192.17 649.03,194.68 649.65,192.91 650.28,199.1 650.9,192.29 651.52,193.28 652.14,193.19 652.77,192.99 653.39,194.32 654.01,194.63 654.64,190.29 655.26,192.73 655.88,191.16 656.51,197.19 657.13,199.62 657.75,198.03 658.38,195.97 659,197.81 659.62,196.15 660.24,199.78 660.87,197.76 661.49,195.9 662.11,193.96 662.74,195.1 663.36,197.28 663.98,193.87 664.61,196.15 665.23,199.67 665.85,196.77 666.47,200.85 667.1,199.96 667.72,196.13 668.34,193.78 668.97,196.69 669.59,195.74 670.21,197.63" fill="none" stroke="#4C72B0" stroke-width="1.8" stroke-linejoin="round"/>
<path d="M580.5 305.2h0M581.12 300.2h0M581.75 295.2h0M582.37 287.1h0M582.99 271h0M583.62 263h0M584.24 272h0M584.86 260.8h0M585.48 282.1h0M586.11 254.05h0M586.73 247.1h0M587.35 255.69h0M587.98 242.62h0M588.6 241.1h0M589.22 250.31h0M589.85 252.26h0M590.47 243.34h0M591.09 292.6h0M591.71 254.49h0M592.34 250.1h0M592.96 241h0M593.58 222h0M594.21 252h0M594.83 220h0M595.45 250h0M596.08 216h0M596.7 304.8h0M597.32 218h0M597.94 255h0M598.57 214h0M599.19 257.3h0M599.81 215h0M600.44 212.48h0M601.06 209.07h0M601.68 215.46h0M602.3 210.55h0M602.93 210.8h0M603.55 207.76h0M604.17 212.63h0M604.8 205.69h0M605.42 209.45h0M606.04 205.87h0M606.67 203.56h0M607.29 204.33h0M607.91 202.83h0M608.53 204.02h0M609.16 203.09h0M609.78 204.45h0M610.4 204.66h0M611.03 202.07h0M611.65 201.94h0M612.27 202.37h0M612.9 199.52h0M613.52 202.66h0M614.14 202.59h0M614.76 200.32h0M615.39 205.55h0M616.01 201.47h0M616.63 189.5h0M617.26 196.98h0M617.88 196.91h0M618.5 207.1h0M619.13 199.79h0M619.75 194.29h0M620.37 195.57h0M621 193.94h0M621.62 197.85h0M622.24 190.77h0M622.86 193.26h0M623.49 193.67h0M624.11 194.73h0M624.73 195.01h0M625.36 193.15h0M625.98 196.25h0M626.6 194.43h0M627.23 198.53h0M627.85 189.65h0M628.47 195.05h0M629.09 190.71h0M629.72 191.27h0M630.34 198.13h0M630.96 197.48h0M631.59 188.81h0M632.21 192.26h0M632.83 192.5h0M633.46 188.11h0M634.08 192.22h0M634.7 193.13h0M635.32 192.53h0M635.95 187.19h0M636.57 194.18h0M637.19 191.83h0M637.82 190.81h0M638.44 188.93h0M639.06 192.26h0M639.68 192.69h0M640.31 189.42h0M640.93 190.97h0M641.55 193.01h0M642.18 187.03h0M642.8 192.09h0M643.42 187.75h0M644.05 190.51h0M644.67 194.2h0M645.29 193.11h0M645.91 192.8h0M646.54 193.24h0M647.16 195.98h0M647.78 200.1h0M648.41 192.17h0M649.03 194.68h0M649.65 192.91h0M650.28 199.1h0M650.9 192.29h0M651.52 193.28h0M652.14 193.19h0M652.77 192.99h0M653.39 194.32h0M654.01 194.63h0M654.64 190.29h0M655.26 192.73h0M655.88 191.16h0M656.51 197.19h0M657.13 199.62h0M657.75 198.03h0M658.38 195.97h0M659 197.81h0M659.62 196.15h0M660.24 199.78h0M660.87 197.76h0M661.49 195.9h0M662.11 193.96h0M662.74 195.1h0M663.36 197.28h0M663.98 193.87h0M664.61 196.15h0M665.23 199.67h0M665.85 196.77h0M666.47 200.85h0M667.1 199.96h0M667.72 196.13h0M668.34 193.78h0M668.97 196.69h0M669.59 195.74h0M670.21 197.63h0" stroke="#4C72B0" stroke-width="4.6" stroke-linecap="round" fill="none"/>
</g>
</svg>
</body></html>
